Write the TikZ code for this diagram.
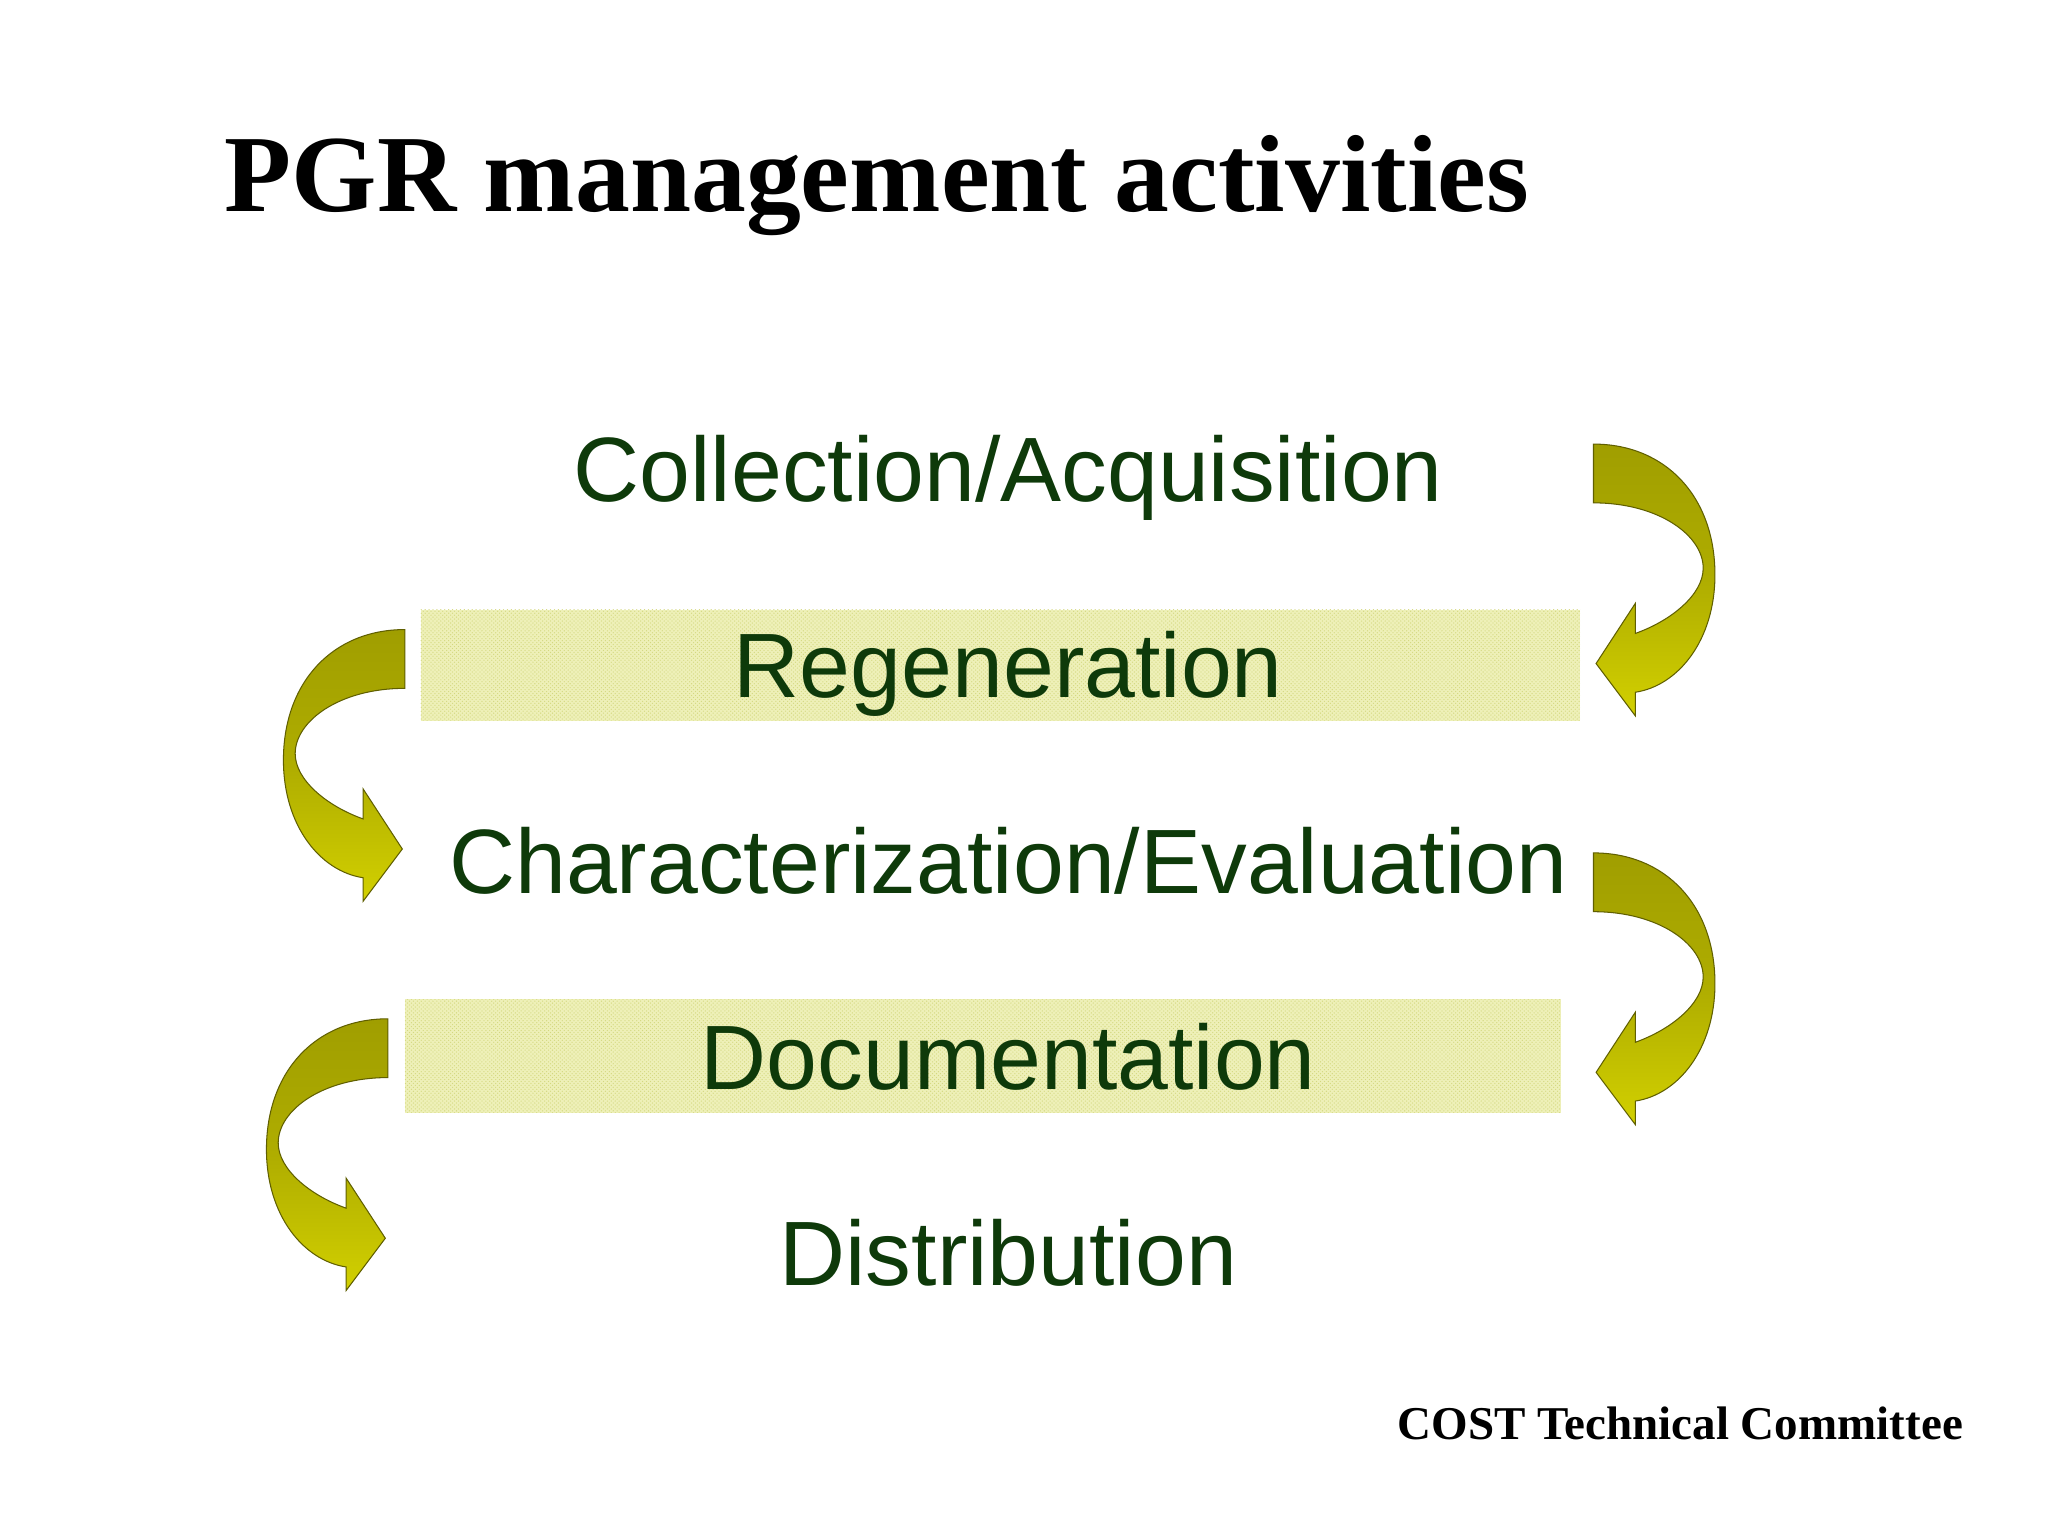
\documentclass[tikz,border=0pt]{standalone}
\usepackage{fontspec}
\setmainfont{Liberation Serif}
\newfontfamily\itemfont{Liberation Sans}
\usetikzlibrary{patterns}
\definecolor{txtgreen}{HTML}{0E3A0A}
\definecolor{bandfill}{HTML}{EEF0B8}
\definecolor{banddot}{HTML}{D4D880}
\definecolor{olive}{HTML}{A09E00}
\definecolor{yel}{HTML}{D2D000}
\tikzset{
  itemtext/.style={font=\itemfont\fontsize{70}{80}\selectfont, text=txtgreen, inner sep=0pt},
  band/.style={fill=bandfill, draw=none},
  bandpat/.style={pattern=crosshatch dots, pattern color=banddot, draw=none},
  curvarrow/.style={draw=olive!60!black, line width=0.8pt, top color=olive, bottom color=yel, middle color=olive!70!yel},
}
\newcommand{\carrow}[3]{%
  \path[curvarrow, shift={(#1,#2)}, xscale=#3]
   (0,0) .. controls (55,0) and (93,40) .. (93,100)
   .. controls (93,150) and (65,185) .. (32,190) -- (32,208) -- (2,168) -- (32,122) -- (32,145)
   .. controls (60,135) and (84,115) .. (84,95)
   .. controls (84,70) and (50,45) .. (0,45) -- cycle;}
\begin{document}
\begin{tikzpicture}[x=1pt,y=-1pt]
\useasboundingbox (0,0) rectangle (1568,1176);
\fill[white] (0,0) rectangle (1568,1176);
\node[font=\bfseries\fontsize{84}{90}\selectfont, anchor=base west, inner sep=0pt] (title) at (172,162) {PGR management activities};
\fill[band] (322,467) rectangle (1210,552);
\fill[bandpat] (322,467) rectangle (1210,552);
\fill[band] (310,765) rectangle (1195,852);
\fill[bandpat] (310,765) rectangle (1195,852);
\node[itemtext, anchor=base] (c1) at (772,384) {Collection/Acquisition};
\node[itemtext, anchor=base] (c2) at (772,534) {Regeneration};
\node[itemtext, anchor=base] (c3) at (772,684) {Characterization/Evaluation};
\node[itemtext, anchor=base] (c4) at (772,834) {Documentation};
\node[itemtext, anchor=base] (c5) at (772,984) {Distribution};
\carrow{1220}{340}{1}
\carrow{310}{482}{-1}
\carrow{1220}{653}{1}
\carrow{297}{780}{-1}
\node[font=\bfseries\fontsize{36}{40}\selectfont, anchor=base east, inner sep=0pt] (foot) at (1503,1102) {COST Technical Committee};
\end{tikzpicture}
\end{document}
